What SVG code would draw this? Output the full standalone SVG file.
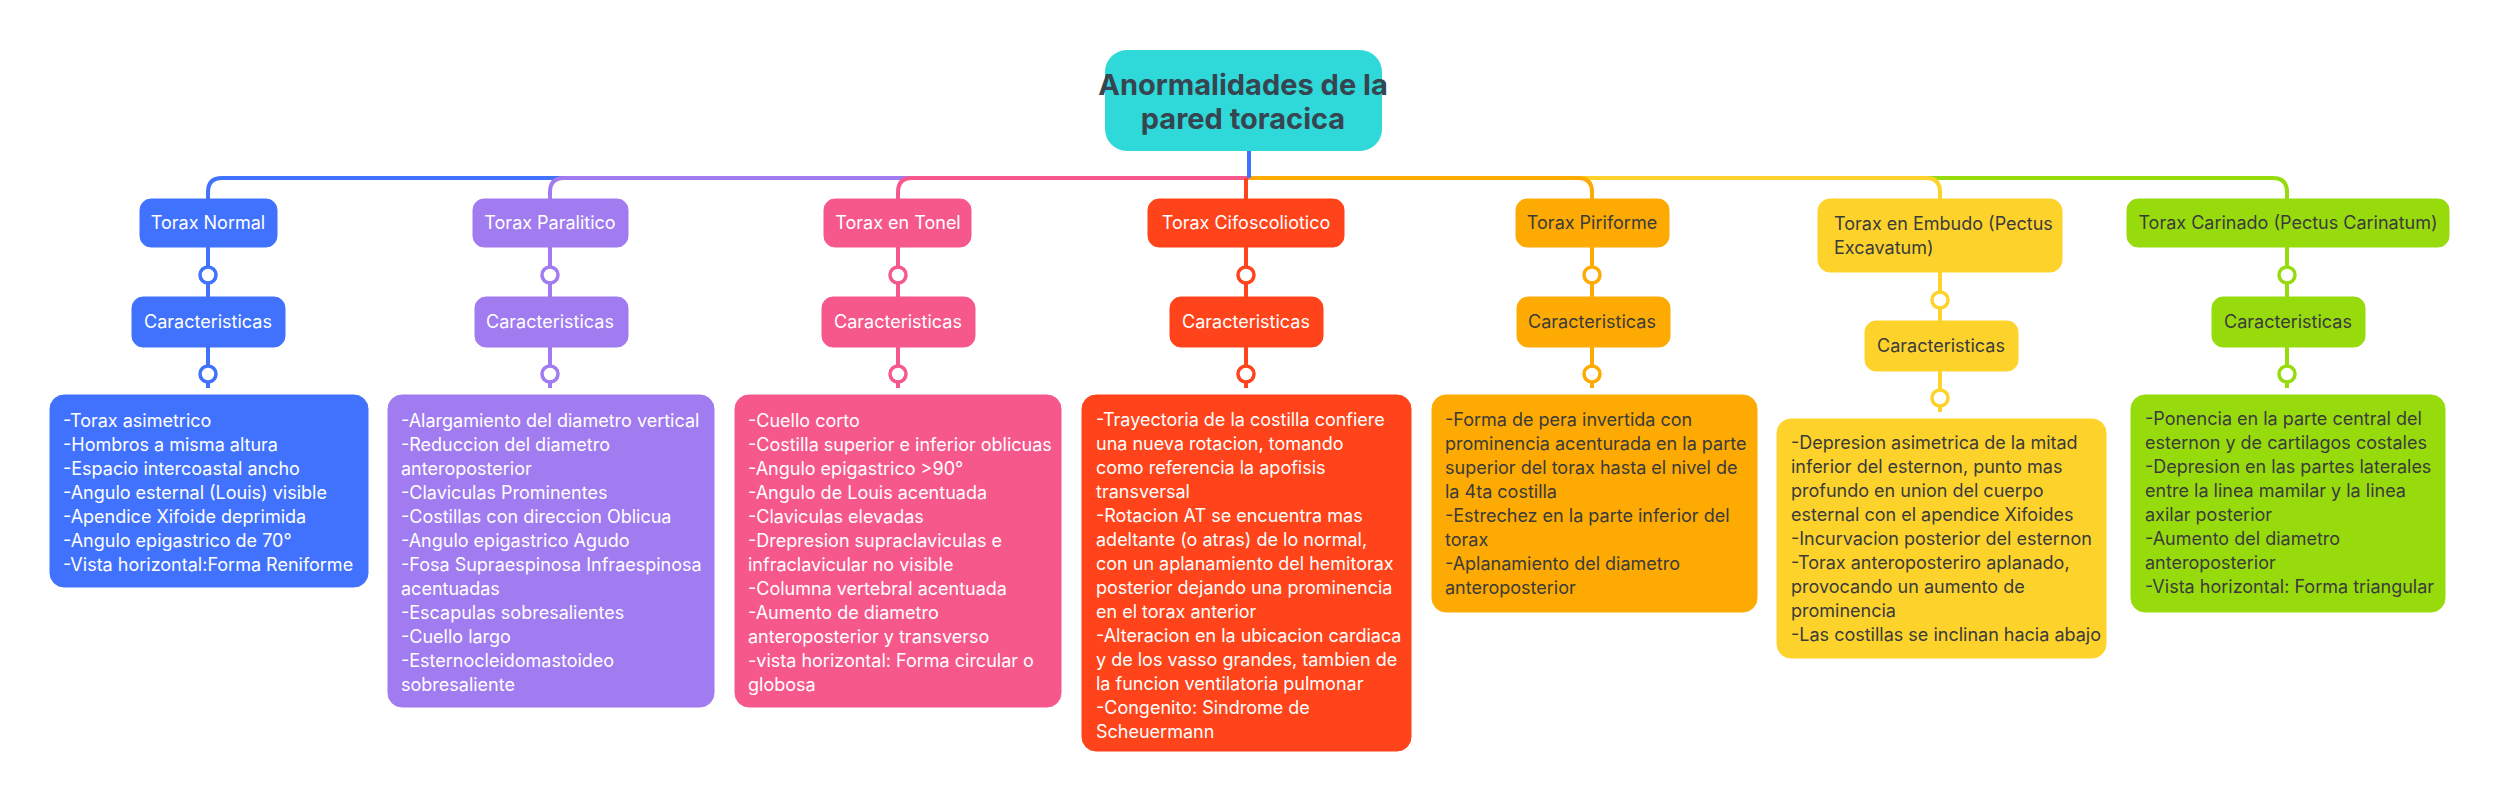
<svg xmlns="http://www.w3.org/2000/svg" width="2500" height="804" viewBox="0 0 2500 804">
<style>
text{font-family:Inter,"Noto Sans","Liberation Sans",sans-serif;font-size:18px}
.w{fill:#fff}.d{fill:#3b3b3b}
.t{font-size:29px;font-weight:700;fill:#36454f}
.c{fill:none;stroke-width:4}
.o{fill:#fff;stroke-width:3.5}
.b1{fill:#4172fd;stroke:#4172fd}.b2{fill:#a17bf0;stroke:#a17bf0}.b3{fill:#f6588b;stroke:#f6588b}.b4{fill:#ff431a;stroke:#ff431a}.b5{fill:#fdaa02;stroke:#fdaa02}.b6{fill:#fdd32b;stroke:#fdd32b}.b7{fill:#97db0d;stroke:#97db0d}
rect{stroke:none}
</style>
<g id="connectors">
<path class="c" style="stroke:#4172fd" d="M1249 151V178H222Q208 178 208 192V199M208 247V388"/>
<path class="c" style="stroke:#a17bf0" d="M1249 178H564Q550 178 550 192V199M550 247V388"/>
<path class="c" style="stroke:#f6588b" d="M1249 178H912Q898 178 898 192V199M898 247V388"/>
<path class="c" style="stroke:#97db0d" d="M1249 178H2273Q2287 178 2287 192V199M2287 247V388"/>
<path class="c" style="stroke:#fdd32b" d="M1249 178H1926Q1940 178 1940 192V199M1940 271V412"/>
<path class="c" style="stroke:#fdaa02" d="M1249 178H1578Q1592 178 1592 192V199M1592 247V388"/>
<path class="c" style="stroke:#ff431a" d="M1246 178V199M1246 247V388"/>
<path class="c" style="stroke:#4172fd" d="M1249 151V178"/>
<circle class="o" style="stroke:#4172fd" cx="208" cy="275" r="8"/><circle class="o" style="stroke:#4172fd" cx="208" cy="374" r="8"/>
<circle class="o" style="stroke:#a17bf0" cx="550" cy="275" r="8"/><circle class="o" style="stroke:#a17bf0" cx="550" cy="374" r="8"/>
<circle class="o" style="stroke:#f6588b" cx="898" cy="275" r="8"/><circle class="o" style="stroke:#f6588b" cx="898" cy="374" r="8"/>
<circle class="o" style="stroke:#ff431a" cx="1246" cy="275" r="8"/><circle class="o" style="stroke:#ff431a" cx="1246" cy="374" r="8"/>
<circle class="o" style="stroke:#fdaa02" cx="1592" cy="275" r="8"/><circle class="o" style="stroke:#fdaa02" cx="1592" cy="374" r="8"/>
<circle class="o" style="stroke:#fdd32b" cx="1940" cy="300" r="8"/><circle class="o" style="stroke:#fdd32b" cx="1940" cy="398" r="8"/>
<circle class="o" style="stroke:#97db0d" cx="2287" cy="275" r="8"/><circle class="o" style="stroke:#97db0d" cx="2287" cy="374" r="8"/>
</g>
<g id="root"><rect x="1105" y="50" width="277" height="101" rx="22" fill="#2fd9d9"/>
<text class="t" x="1243" y="95" text-anchor="middle">Anormalidades de la</text><text class="t" x="1243" y="129" text-anchor="middle">pared toracica</text></g>

<g id="n1"><rect class="b1" x="140" y="199" width="137" height="48" rx="11"/><text class="w" x="208" y="229" text-anchor="middle">Torax Normal</text></g>
<g id="n1c"><rect class="b1" x="132" y="297" width="153" height="50" rx="11"/><text class="w" x="208" y="328" text-anchor="middle">Caracteristicas</text></g>
<g id="n1d"><rect class="b1" x="50" y="395" width="318" height="192" rx="14"/>
<text class="w" x="63" y="427">-Torax asimetrico</text><text class="w" x="63" y="451">-Hombros a misma altura</text><text class="w" x="63" y="475">-Espacio intercoastal ancho</text><text class="w" x="63" y="499">-Angulo esternal (Louis) visible</text><text class="w" x="63" y="523">-Apendice Xifoide deprimida</text><text class="w" x="63" y="547">-Angulo epigastrico de 70°</text><text class="w" x="63" y="571">-Vista horizontal:Forma Reniforme</text></g>

<g id="n2"><rect class="b2" x="473" y="199" width="155" height="48" rx="11"/><text class="w" x="550" y="229" text-anchor="middle">Torax Paralitico</text></g>
<g id="n2c"><rect class="b2" x="475" y="297" width="153" height="50" rx="11"/><text class="w" x="550" y="328" text-anchor="middle">Caracteristicas</text></g>
<g id="n2d"><rect class="b2" x="388" y="395" width="326" height="312" rx="14"/>
<text class="w" x="401" y="427">-Alargamiento del diametro vertical</text><text class="w" x="401" y="451">-Reduccion del diametro</text><text class="w" x="401" y="475">anteroposterior</text><text class="w" x="401" y="499">-Claviculas Prominentes</text><text class="w" x="401" y="523">-Costillas con direccion Oblicua</text><text class="w" x="401" y="547">-Angulo epigastrico Agudo</text><text class="w" x="401" y="571">-Fosa Supraespinosa Infraespinosa</text><text class="w" x="401" y="595">acentuadas</text><text class="w" x="401" y="619">-Escapulas sobresalientes</text><text class="w" x="401" y="643">-Cuello largo</text><text class="w" x="401" y="667">-Esternocleidomastoideo</text><text class="w" x="401" y="691">sobresaliente</text></g>

<g id="n3"><rect class="b3" x="824" y="199" width="147" height="48" rx="11"/><text class="w" x="898" y="229" text-anchor="middle">Torax en Tonel</text></g>
<g id="n3c"><rect class="b3" x="822" y="297" width="153" height="50" rx="11"/><text class="w" x="898" y="328" text-anchor="middle">Caracteristicas</text></g>
<g id="n3d"><rect class="b3" x="735" y="395" width="326" height="312" rx="14"/>
<text class="w" x="748" y="427">-Cuello corto</text><text class="w" x="748" y="451">-Costilla superior e inferior oblicuas</text><text class="w" x="748" y="475">-Angulo epigastrico &gt;90°</text><text class="w" x="748" y="499">-Angulo de Louis acentuada</text><text class="w" x="748" y="523">-Claviculas elevadas</text><text class="w" x="748" y="547">-Drepresion supraclaviculas e</text><text class="w" x="748" y="571">infraclavicular no visible</text><text class="w" x="748" y="595">-Columna vertebral acentuada</text><text class="w" x="748" y="619">-Aumento de diametro</text><text class="w" x="748" y="643">anteroposterior y transverso</text><text class="w" x="748" y="667">-vista horizontal: Forma circular o</text><text class="w" x="748" y="691">globosa</text></g>

<g id="n4"><rect class="b4" x="1148" y="199" width="196" height="48" rx="11"/><text class="w" x="1246" y="229" text-anchor="middle">Torax Cifoscoliotico</text></g>
<g id="n4c"><rect class="b4" x="1170" y="297" width="153" height="50" rx="11"/><text class="w" x="1246" y="328" text-anchor="middle">Caracteristicas</text></g>
<g id="n4d"><rect class="b4" x="1082" y="395" width="329" height="356" rx="14"/>
<text class="w" x="1096" y="426">-Trayectoria de la costilla confiere</text><text class="w" x="1096" y="450">una nueva rotacion, tomando</text><text class="w" x="1096" y="474">como referencia la apofisis</text><text class="w" x="1096" y="498">transversal</text><text class="w" x="1096" y="522">-Rotacion AT se encuentra mas</text><text class="w" x="1096" y="546">adeltante (o atras) de lo normal,</text><text class="w" x="1096" y="570">con un aplanamiento del hemitorax</text><text class="w" x="1096" y="594">posterior dejando una prominencia</text><text class="w" x="1096" y="618">en el torax anterior</text><text class="w" x="1096" y="642">-Alteracion en la ubicacion cardiaca</text><text class="w" x="1096" y="666"> y de los vasso grandes, tambien de</text><text class="w" x="1096" y="690">la funcion ventilatoria pulmonar</text><text class="w" x="1096" y="714">-Congenito: Sindrome de</text><text class="w" x="1096" y="738">Scheuermann</text></g>

<g id="n5"><rect class="b5" x="1516" y="199" width="153" height="48" rx="11"/><text class="d" x="1592" y="229" text-anchor="middle">Torax Piriforme</text></g>
<g id="n5c"><rect class="b5" x="1517" y="297" width="153" height="50" rx="11"/><text class="d" x="1592" y="328" text-anchor="middle">Caracteristicas</text></g>
<g id="n5d"><rect class="b5" x="1432" y="395" width="325" height="217" rx="14"/>
<text class="d" x="1445" y="426">-Forma de pera invertida con</text><text class="d" x="1445" y="450">prominencia acenturada en la parte</text><text class="d" x="1445" y="474">superior del torax hasta el nivel de</text><text class="d" x="1445" y="498">la 4ta costilla</text><text class="d" x="1445" y="522">-Estrechez en la parte inferior del</text><text class="d" x="1445" y="546">torax</text><text class="d" x="1445" y="570">-Aplanamiento del diametro</text><text class="d" x="1445" y="594">anteroposterior</text></g>

<g id="n6"><rect class="b6" x="1818" y="199" width="244" height="73" rx="12"/><text class="d" x="1834" y="230">Torax en Embudo (Pectus</text><text class="d" x="1834" y="254">Excavatum)</text></g>
<g id="n6c"><rect class="b6" x="1865" y="321" width="153" height="50" rx="11"/><text class="d" x="1941" y="352" text-anchor="middle">Caracteristicas</text></g>
<g id="n6d"><rect class="b6" x="1777" y="419" width="329" height="239" rx="14"/>
<text class="d" x="1791" y="449">-Depresion asimetrica de la mitad</text><text class="d" x="1791" y="473">inferior del esternon, punto mas</text><text class="d" x="1791" y="497">profundo en union del cuerpo</text><text class="d" x="1791" y="521">esternal con el apendice Xifoides</text><text class="d" x="1791" y="545">-Incurvacion posterior del esternon</text><text class="d" x="1791" y="569">-Torax anteroposteriro aplanado,</text><text class="d" x="1791" y="593">provocando un aumento de</text><text class="d" x="1791" y="617">prominencia</text><text class="d" x="1791" y="641">-Las costillas se inclinan hacia abajo</text></g>

<g id="n7"><rect class="b7" x="2127" y="199" width="322" height="48" rx="11"/><text class="d" x="2288" y="229" text-anchor="middle">Torax Carinado (Pectus Carinatum)</text></g>
<g id="n7c"><rect class="b7" x="2212" y="297" width="153" height="50" rx="11"/><text class="d" x="2288" y="328" text-anchor="middle">Caracteristicas</text></g>
<g id="n7d"><rect class="b7" x="2131" y="395" width="314" height="217" rx="14"/>
<text class="d" x="2145" y="425">-Ponencia en la parte central del</text><text class="d" x="2145" y="449">esternon y de cartilagos costales</text><text class="d" x="2145" y="473">-Depresion en las partes laterales</text><text class="d" x="2145" y="497">entre la linea mamilar y la linea</text><text class="d" x="2145" y="521">axilar posterior</text><text class="d" x="2145" y="545">-Aumento del diametro</text><text class="d" x="2145" y="569">anteroposterior</text><text class="d" x="2145" y="593">-Vista horizontal: Forma triangular</text></g>
</svg>
